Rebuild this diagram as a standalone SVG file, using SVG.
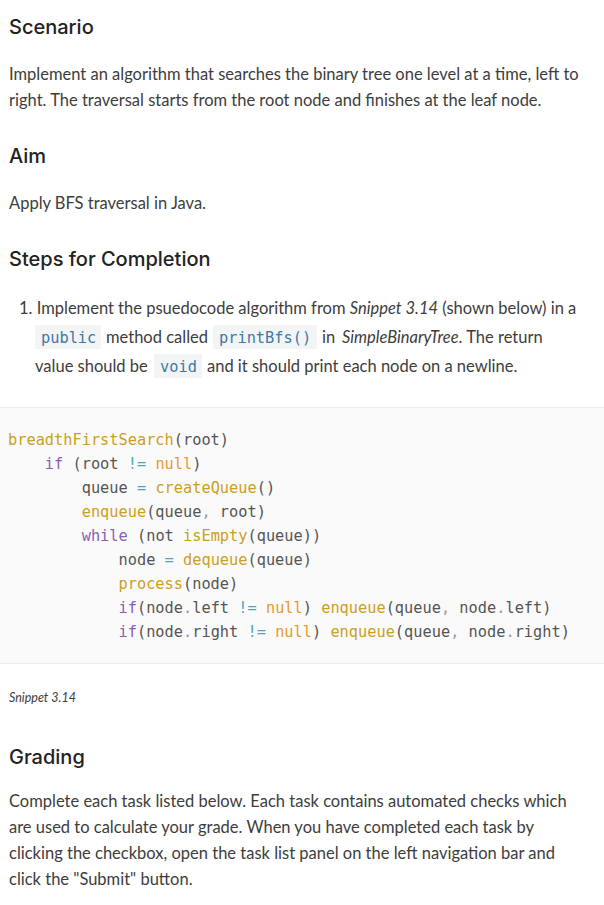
<svg xmlns="http://www.w3.org/2000/svg" width="604" height="905" viewBox="0 0 604 905">
<style>
.h{font-family:Inter,"Noto Sans",sans-serif;font-size:20px;font-weight:500;fill:#222}
.t{font-family:Lato,"Noto Sans",sans-serif;font-size:16.5px;fill:#3d3d3d}
.c{font-family:"DejaVu Sans Mono",monospace;font-size:15.3px;fill:#555}
.ic{font-family:"DejaVu Sans Mono",monospace;font-size:15.3px;fill:#3d79a8}
.f{fill:#caa024}.k{fill:#8a5fb3}.n{fill:#e59b2f}.o{fill:#4ea6b8}.p{fill:#999}
</style>
<rect width="604" height="905" fill="#fff"/>
<g id="scenario">
<text class="h" x="9" y="34">Scenario</text>
<text class="t" x="9" y="80">Implement an algorithm that searches the binary tree one level at a time, left to</text>
<text class="t" x="9" y="106">right. The traversal starts from the root node and finishes at the leaf node.</text>
</g>
<g id="aim">
<text class="h" x="9" y="163">Aim</text>
<text class="t" x="9" y="209">Apply BFS traversal in Java.</text>
</g>
<g id="steps">
<text class="h" x="9" y="266">Steps for Completion</text>
<rect x="35" y="325" width="66" height="24" fill="#f3f4f4"/>
<rect x="213" y="325" width="104" height="24" fill="#f3f4f4"/>
<rect x="154" y="354" width="48" height="24" fill="#f3f4f4"/>
<text class="t" x="19" y="314">1. Implement the psuedocode algorithm from <tspan font-style="italic">Snippet 3.14</tspan> (shown below) in a</text>
<text class="t" y="343"><tspan class="ic" x="41">public</tspan><tspan x="106">method called</tspan><tspan class="ic" x="219">printBfs()</tspan><tspan x="322">in</tspan><tspan x="342" font-style="italic">SimpleBinaryTree</tspan>. The return</text>
<text class="t" y="372"><tspan x="35">value should be</tspan><tspan class="ic" x="160">void</tspan><tspan x="207">and it should print each node on a newline.</tspan></text>
</g>
<g id="code">
<rect x="0" y="407" width="604" height="257" fill="#fafafa"/>
<line x1="0" y1="407.5" x2="604" y2="407.5" stroke="#ececec"/>
<line x1="0" y1="663.5" x2="604" y2="663.5" stroke="#ececec"/>
<text class="c" xml:space="preserve" x="8" y="445"><tspan class="f">breadthFirstSearch</tspan>(root)</text>
<text class="c" xml:space="preserve" x="8" y="469">    <tspan class="k">if</tspan> (root <tspan class="o">!=</tspan> <tspan class="n">null</tspan>)</text>
<text class="c" xml:space="preserve" x="8" y="493">        queue <tspan class="o">=</tspan> <tspan class="f">createQueue</tspan>()</text>
<text class="c" xml:space="preserve" x="8" y="517">        <tspan class="f">enqueue</tspan>(queue<tspan class="p">,</tspan> root)</text>
<text class="c" xml:space="preserve" x="8" y="541">        <tspan class="k">while</tspan> (not <tspan class="f">isEmpty</tspan>(queue))</text>
<text class="c" xml:space="preserve" x="8" y="565">            node <tspan class="o">=</tspan> <tspan class="f">dequeue</tspan>(queue)</text>
<text class="c" xml:space="preserve" x="8" y="589">            <tspan class="f">process</tspan>(node)</text>
<text class="c" xml:space="preserve" x="8" y="613">            <tspan class="k">if</tspan>(node<tspan class="p">.</tspan>left <tspan class="o">!=</tspan> <tspan class="n">null</tspan>) <tspan class="f">enqueue</tspan>(queue<tspan class="p">,</tspan> node<tspan class="p">.</tspan>left)</text>
<text class="c" xml:space="preserve" x="8" y="637">            <tspan class="k">if</tspan>(node<tspan class="p">.</tspan>right <tspan class="o">!=</tspan> <tspan class="n">null</tspan>) <tspan class="f">enqueue</tspan>(queue<tspan class="p">,</tspan> node<tspan class="p">.</tspan>right)</text>
</g>
<g id="caption">
<text class="t" x="9" y="702" style="font-size:12.5px;font-style:italic">Snippet 3.14</text>
</g>
<g id="grading">
<text class="h" x="9" y="764">Grading</text>
<text class="t" x="9" y="807">Complete each task listed below. Each task contains automated checks which</text>
<text class="t" x="9" y="833">are used to calculate your grade. When you have completed each task by</text>
<text class="t" x="9" y="859">clicking the checkbox, open the task list panel on the left navigation bar and</text>
<text class="t" x="9" y="885">click the "Submit" button.</text>
</g>
</svg>
